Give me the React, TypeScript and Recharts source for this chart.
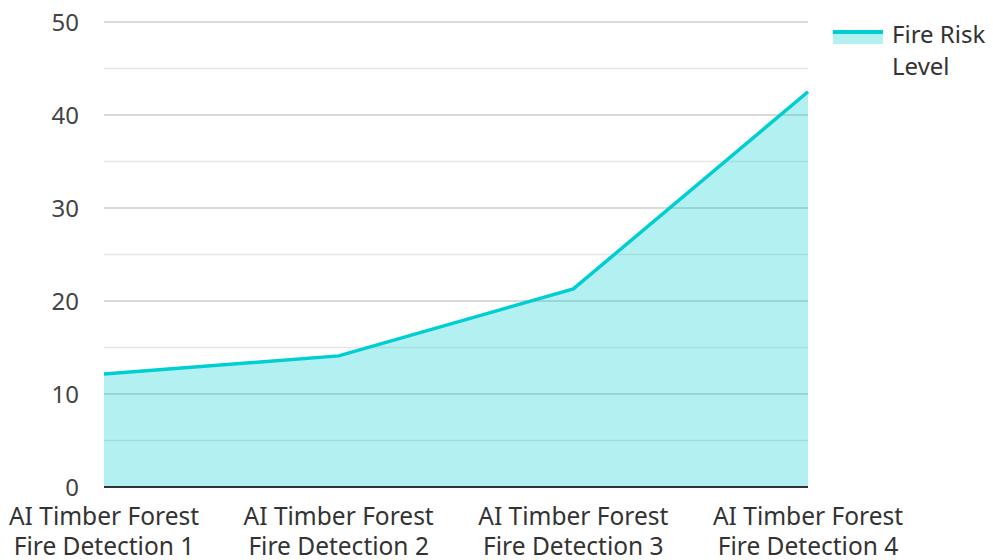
import { AreaChart, Area, XAxis, YAxis, CartesianGrid, Legend } from 'recharts'

const systems = [
  'AI Timber Forest Fire Detection 1',
  'AI Timber Forest Fire Detection 2',
  'AI Timber Forest Fire Detection 3',
  'AI Timber Forest Fire Detection 4',
]
const fireRisk = [12.15, 14.1, 21.3, 42.5]
const yTicks = [0, 5, 10, 15, 20, 25, 30, 35, 40, 45, 50]

const data = systems.map((name, i) => ({ name, risk: fireRisk[i] }))

const TEAL = '#00CED1'
const FONT = '"Noto Sans", "Open Sans", sans-serif'

// two-line category label: first three words, then the rest
const XTick = ({ x, y, payload }: any) => {
  const words = String(payload.value).split(' ')
  const first = words.slice(0, 3).join(' ')
  const second = words.slice(3).join(' ')
  return (
    <text x={x} y={y} textAnchor="middle" fill="#333" fontSize={24.5} fontFamily={FONT}>
      <tspan x={x} dy={30}>{first}</tspan>
      <tspan x={x} dy={30}>{second}</tspan>
    </text>
  )
}

// major lines on tens, light lines on fives
const gridLine = (props: any) => {
  const major = props.index % 2 === 0
  return (
    <line
      key={props.key}
      x1={props.x1}
      x2={props.x2}
      y1={props.y1}
      y2={props.y2}
      stroke={major ? '#cccccc' : '#e6e6e6'}
      strokeWidth={1.5}
    />
  )
}

const renderLegend = () => (
  <div style={{ position: 'relative', width: 160, height: 70, fontFamily: FONT, fontSize: 24, color: '#333' }}>
    <svg width={50} height={16} style={{ position: 'absolute', left: 0, top: 11 }}>
      <rect x={0} y={3} width={50} height={12} fill={TEAL} fillOpacity={0.3} />
      <line x1={0} x2={50} y1={3} y2={3} stroke={TEAL} strokeWidth={4} />
    </svg>
    <div style={{ position: 'absolute', left: 59, top: 0, width: 100, lineHeight: '32px' }}>
      Fire Risk Level
    </div>
  </div>
)

export default function App() {
  return (
    <AreaChart
      width={985}
      height={552}
      data={data}
      margin={{ top: 14, right: 185, bottom: 0, left: 0 }}
    >
      <CartesianGrid vertical={false} horizontal={gridLine} />
      <XAxis
        dataKey="name"
        tick={<XTick />}
        tickLine={false}
        axisLine={{ stroke: '#333', strokeWidth: 2 }}
        height={73}
        interval={0}
      />
      <YAxis
        domain={[0, 50]}
        ticks={yTicks}
        tickFormatter={(v: number) => (v % 10 === 0 ? String(v) : '')}
        axisLine={false}
        tickLine={false}
        tickMargin={19}
        width={96}
        tick={{ fill: '#444', fontSize: 24, fontFamily: FONT }}
      />
      <Legend
        layout="horizontal"
        verticalAlign="middle"
        content={renderLegend}
        wrapperStyle={{ position: 'absolute', top: 10, left: 825, right: 'auto', width: 160 }}
      />
      <Area
        type="linear"
        dataKey="risk"
        name="Fire Risk Level"
        stroke={TEAL}
        strokeWidth={3.5}
        fill={TEAL}
        fillOpacity={0.3}
        dot={false}
        activeDot={false}
        isAnimationActive={false}
      />
    </AreaChart>
  )
}
